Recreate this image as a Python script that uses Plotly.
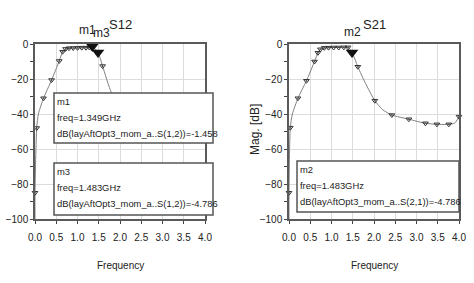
import plotly.graph_objects as go

# ---- data ----
s12_freq = [0.0, 0.04, 0.2, 0.39, 0.57, 0.65, 0.72, 0.8, 0.9, 1.0, 1.1, 1.2, 1.28, 1.34, 1.59, 2.02, 2.42, 2.82, 3.21, 3.48, 3.76, 4.0]
s12_db = [-85, -48, -31, -20.6, -9.7, -4.4, -2.8, -2.4, -2.3, -2.2, -2.1, -2.1, -2.0, -1.8, -12.6, -34.5, -41.0, -43.5, -45.3, -45.9, -45.9, -41.5]
s12_line_freq = [0.0, 0.0, 0.04, 0.08, 0.2, 0.39, 0.57, 0.65, 0.72, 0.8, 1.0, 1.2, 1.349, 1.483, 1.59, 1.8, 2.02, 2.2, 2.42, 2.82, 3.21, 3.48, 3.76, 3.9, 4.0]
s12_line_db = [-100, -85, -48, -40, -31, -20.6, -9.7, -4.4, -2.8, -2.4, -2.2, -2.1, -1.458, -4.786, -12.6, -27.8, -34.5, -38.5, -41.0, -43.5, -45.3, -45.9, -45.9, -45.2, -41.5]

s21_freq = [0.0, 0.03, 0.21, 0.41, 0.60, 0.68, 0.74, 0.83, 0.93, 1.05, 1.17, 1.29, 1.39, 1.62, 2.02, 2.42, 2.82, 3.21, 3.48, 3.76, 4.0]
s21_db = [-85, -47.8, -31.0, -21.0, -10.0, -5.0, -3.0, -2.2, -2.1, -2.0, -2.0, -1.9, -1.9, -13.0, -32.4, -40.6, -43.0, -45.3, -45.9, -45.9, -41.5]
s21_line_freq = [0.0, 0.0, 0.03, 0.08, 0.21, 0.41, 0.60, 0.68, 0.74, 0.83, 1.05, 1.29, 1.39, 1.483, 1.62, 1.8, 2.02, 2.2, 2.42, 2.82, 3.21, 3.48, 3.76, 3.9, 4.0]
s21_line_db = [-100, -85, -47.8, -40, -31.0, -21.0, -10.0, -5.0, -3.0, -2.2, -2.0, -1.9, -1.9, -4.786, -13.0, -22.5, -32.4, -37.5, -40.6, -43.0, -45.3, -45.9, -45.9, -45.2, -41.5]

markers_left = [("m1", 1.349, -1.458, "dB(layAftOpt3_mom_a..S(1,2))=-1.458"),
                ("m3", 1.483, -4.786, "dB(layAftOpt3_mom_a..S(1,2))=-4.786")]
markers_right = [("m2", 1.483, -4.786, "dB(layAftOpt3_mom_a..S(2,1))=-4.786")]

x_ticks = [0.0, 0.5, 1.0, 1.5, 2.0, 2.5, 3.0, 3.5, 4.0]
y_ticks = [0, -20, -40, -60, -80, -100]

FONT = "Liberation Sans, Arial, sans-serif"
W, H = 474, 283
TXT = "#222"

def px(x):
    return x / W

def py(y):
    return 1 - y / H

fig = go.Figure()

for (lf, ld, mf, md, xa, ya) in [
    (s12_line_freq, s12_line_db, s12_freq, s12_db, "x", "y"),
    (s21_line_freq, s21_line_db, s21_freq, s21_db, "x2", "y2"),
]:
    fig.add_trace(go.Scatter(x=lf, y=ld, mode="lines", line=dict(color="#808080", width=1, shape="spline", smoothing=0.6),
                             xaxis=xa, yaxis=ya, showlegend=False, hoverinfo="skip", cliponaxis=True))
    fig.add_trace(go.Scatter(x=mf, y=md, mode="markers",
                             marker=dict(symbol="triangle-down-open-dot", size=5, color="#333", line=dict(width=1)),
                             xaxis=xa, yaxis=ya, showlegend=False, hoverinfo="skip", cliponaxis=False))

for mk, xa, ya in [(markers_left, "x", "y"), (markers_right, "x2", "y2")]:
    fig.add_trace(go.Scatter(x=[m[1] for m in mk], y=[m[2] for m in mk], mode="markers",
                             marker=dict(symbol="triangle-down", size=11, color="#111"),
                             xaxis=xa, yaxis=ya, showlegend=False, hoverinfo="skip", cliponaxis=False))

axis_common = dict(
    showline=True, linecolor="#5a5a5a", linewidth=1.5, mirror=True, automargin=False,
    showgrid=True, gridcolor="#dcdcdc", gridwidth=1, zeroline=False,
    ticks="outside", ticklen=3, tickcolor="#444", tickwidth=1,
    tickfont=dict(family=FONT, size=10, color=TXT),
)
minor = dict(dtick=10, ticks="outside", ticklen=3, tickcolor="#444", showgrid=False)

fig.update_layout(
    width=W, height=H, margin=dict(l=0, r=0, t=0, b=0, pad=0), autosize=False,
    paper_bgcolor="white", plot_bgcolor="white",
    xaxis=dict(domain=[px(35), px(205)], range=[0, 4], tickvals=x_ticks, tickformat=".1f", anchor="y",
               ticklabelstandoff=5, **axis_common),
    yaxis=dict(domain=[py(219), py(44)], range=[-100, 0], tickvals=y_ticks, anchor="x", minor=minor, **axis_common),
    xaxis2=dict(domain=[px(289), px(459)], range=[0, 4], tickvals=x_ticks, tickformat=".1f", anchor="y2",
                ticklabelstandoff=5, **axis_common),
    yaxis2=dict(domain=[py(219), py(44)], range=[-100, 0], tickvals=y_ticks, anchor="x2", minor=minor, **axis_common),
)

annotations = []
shapes = []

# titles and axis labels
for txt, x, y, size, ang in [("S12", 120, 24, 13, 0), ("S21", 374, 24, 13, 0),
                             ("Frequency", 120, 265, 10, 0), ("Frequency", 374, 265, 10, 0),
                             ("Mag. [dB]", 255, 130, 12, -90)]:
    annotations.append(dict(x=px(x), y=py(y), xref="paper", yref="paper", text=txt, showarrow=False,
                            xanchor="center", yanchor="middle", textangle=ang,
                            font=dict(family=FONT, size=size, color=TXT)))

# marker labels above triangles
for mk, xr, yr, shifts in [(markers_left, "x", "y", [(-5, 17), (3, 19)]), (markers_right, "x2", "y2", [(0, 20)])]:
    for (name, f, d, _), (xs, ys) in zip(mk, shifts):
        annotations.append(dict(x=f, y=d, xref=xr, yref=yr, text=name, showarrow=False,
                                xshift=xs, yshift=ys, xanchor="center", yanchor="middle",
                                font=dict(family=FONT, size=12, color=TXT)))

# readout boxes
boxes = [(markers_left[0], 54, 93, 213, 143), (markers_left[1], 54, 163, 213, 215), (markers_right[0], 297, 161, 459, 212)]
for (name, f, d, dbtxt), x0, y0, x1, y1 in boxes:
    shapes.append(dict(type="rect", xref="paper", yref="paper", x0=px(x0), x1=px(x1), y0=py(y1), y1=py(y0),
                       line=dict(color="#555", width=1.5), fillcolor="white", layer="above"))
    for i, line in enumerate([name, "freq=%.3fGHz" % f, dbtxt]):
        annotations.append(dict(x=px(x0 + 1), y=py(y0 + 8 + 16 * i), xref="paper", yref="paper", text=line,
                                showarrow=False, xanchor="left", yanchor="middle",
                                font=dict(family=FONT, size=9.4, color=TXT)))

fig.update_layout(annotations=annotations, shapes=shapes)
fig.write_html("out.html")
